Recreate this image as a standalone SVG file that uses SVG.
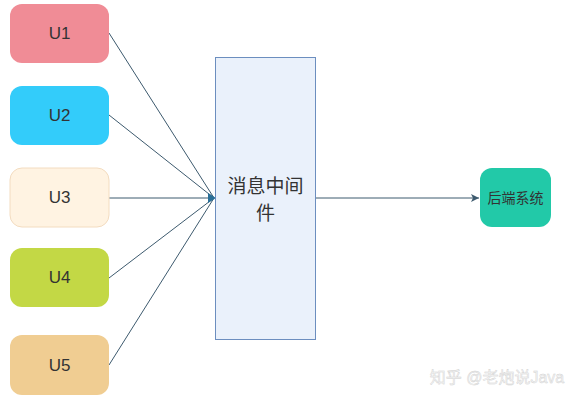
<svg xmlns="http://www.w3.org/2000/svg" width="587" height="401" viewBox="0 0 587 401">
<defs>
<style>
.t{font-family:"Liberation Sans","Noto Sans CJK SC",sans-serif;font-size:17px;fill:#333;text-anchor:middle;dominant-baseline:central}
.c{stroke:#3d5a6e;stroke-width:1;fill:none}
</style>
<marker id="ah" markerWidth="10" markerHeight="10" refX="8" refY="5" orient="auto" markerUnits="userSpaceOnUse">
<path d="M0,1 L8,5 L0,9 L2,5 Z" fill="#3d5a6e"/>
</marker>
</defs>
<rect width="587" height="401" fill="#fff"/>
<g id="connectors">
<line class="c" x1="109" y1="33" x2="214" y2="198"/>
<line class="c" x1="109" y1="115" x2="214" y2="198"/>
<line class="c" x1="109" y1="198" x2="214" y2="198"/>
<line class="c" x1="109" y1="278" x2="214" y2="198"/>
<line class="c" x1="109" y1="365" x2="214" y2="198"/>
<path d="M208,193 L216,198 L208,203 Z" fill="#2a6f97"/>
<line class="c" x1="316" y1="198" x2="479" y2="198" marker-end="url(#ah)"/>
</g>
<g id="U1"><rect x="10" y="4" width="99" height="59" rx="12" fill="#f08c96"/><text class="t" x="59.5" y="33.5">U1</text></g>
<g id="U2"><rect x="10" y="86" width="99" height="59" rx="12" fill="#33ccfa"/><text class="t" x="59.5" y="115.5">U2</text></g>
<g id="U3"><rect x="10" y="168" width="99" height="59" rx="12" fill="#fff3e2" stroke="#f3dcc0" stroke-width="1"/><text class="t" x="59.5" y="197.5">U3</text></g>
<g id="U4"><rect x="10" y="248" width="99" height="59" rx="12" fill="#c3d845"/><text class="t" x="59.5" y="277.5">U4</text></g>
<g id="U5"><rect x="10" y="335" width="99" height="60" rx="12" fill="#f0cd92"/><text class="t" x="59.5" y="365">U5</text></g>
<g id="mq"><rect x="215.5" y="57.5" width="100" height="282" fill="#eaf1fb" stroke="#6c8ebf" stroke-width="1"/>
<text class="t" x="265.5" y="186" style="font-size:19px">消息中间</text>
<text class="t" x="265.5" y="213" style="font-size:19px">件</text></g>
<g id="backend"><rect x="480" y="168" width="71" height="59" rx="12" fill="#22c9a8"/><text class="t" x="515.5" y="197.5" style="font-size:14px">后端系统</text></g>
<text x="497" y="383" style="font-family:'Liberation Sans','Noto Sans CJK SC',sans-serif;font-size:16px;fill:#f4f4f4;stroke:#d0d0d0;stroke-width:0.4;text-anchor:middle">知乎 @老炮说Java</text>
</svg>
